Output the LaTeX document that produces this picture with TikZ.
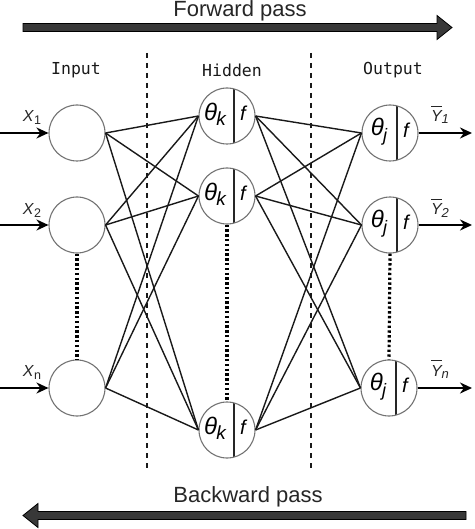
\documentclass[tikz,border=0pt]{standalone}
\usepackage{fontspec}
\setmainfont{Liberation Sans}
\newfontfamily\monof{DejaVu Sans Mono}
\usetikzlibrary{arrows.meta}
\tikzset{
  neuron/.style={circle, draw=black!55, line width=1.1pt, minimum size=56pt, inner sep=0pt},
  split/.style={neuron, path picture={\draw[line width=1.4pt, black!85] ([xshift=7pt]path picture bounding box.north) -- ([xshift=7pt]path picture bounding box.south);}},
  link/.style={line width=1.4pt, black!90},
  dotline/.style={line width=3.2pt, black, dash pattern=on 2.4pt off 2.4pt},
  layersep/.style={line width=1.3pt, black!90, dash pattern=on 5pt off 5pt},
  inarrow/.style={line width=2.8pt, -{Stealth[length=12pt,width=11pt]}},
  layerlab/.style={font=\monof\fontsize{16.5}{19}\selectfont, text=black!90},
  passlab/.style={font=\fontsize{22}{26}\selectfont, text=black!85},
  bigarrow/.style={draw=black, line width=0.8pt, fill=black!78},
  thlab/.style={font=\itshape\fontsize{24}{26}\selectfont, inner sep=0pt},
  flab/.style={font=\itshape\fontsize{20}{22}\selectfont, inner sep=0pt},
  xlab/.style={font=\fontsize{16}{18}\selectfont, inner sep=0pt, text=black!85},
}
\newcommand{\ybar}[1]{$\overline{\mbox{\itshape Y\rule{0pt}{14pt}}}$\raisebox{-2pt}{\itshape\fontsize{13}{14}\selectfont #1}}
\begin{document}
\begin{tikzpicture}[x=1pt,y=-1pt]
\useasboundingbox (0,0) rectangle (474,529);
% forward / backward
\node[passlab] (fwd) at (240,11) {Forward pass};
\path[bigarrow] (23,23.5) -- (437,23.5) -- (437,15.5) -- (452,27.5) -- (437,39.5) -- (437,31.5) -- (23,31.5) -- cycle;
\node[passlab] (bwd) at (248,497) {Backward pass};
\path[bigarrow] (466,511.5) -- (38,511.5) -- (38,503.5) -- (23,515.5) -- (38,527.5) -- (38,519.5) -- (466,519.5) -- cycle;
% layer separators
\coordinate (s1t) at (147,53); \coordinate (s1b) at (147,472);
\coordinate (s2t) at (311,53); \coordinate (s2b) at (311,472);
\draw[layersep] (s1t) -- (s1b);
\draw[layersep] (s2t) -- (s2b);
% layer labels
\node[layerlab] (linp) at (76,70) {Input};
\node[layerlab] (lhid) at (232,70) {Hidden};
\node[layerlab] (lout) at (393,70) {Output};
% nodes
\node[neuron] (i1) at (77,133) {};
\node[neuron] (i2) at (77,225) {};
\node[neuron] (i3) at (77,388) {};
\node[split] (h1) at (227,116) {};
\node[split] (h2) at (227,196) {};
\node[split] (h3) at (227,430) {};
\node[split] (o1) at (390,133) {};
\node[split] (o2) at (390,225) {};
\node[split] (o3) at (389,388) {};
% node texts
\foreach \n in {h1,h2,h3}{
  \node[thlab] (\n th) at ([xshift=-12pt,yshift=2pt]\n.center) {θ\kern-1pt\raisebox{-5pt}{\fontsize{19}{20}\selectfont k}};
  \node[flab] (\n f) at ([xshift=16pt,yshift=3pt]\n.center) {f};
}
\foreach \n in {o1,o2,o3}{
  \node[thlab] (\n th) at ([xshift=-11pt,yshift=1pt]\n.center) {θ\kern-1pt\raisebox{-6pt}{\fontsize{18}{20}\selectfont j}};
  \node[flab] (\n f) at ([xshift=16pt,yshift=3pt]\n.center) {f};
}
% connectors
\foreach \a in {i1,i2,i3}{
  \foreach \b in {h1,h2,h3}{
    \draw[link] (\a.east) -- (\b.west);
  }
}
\foreach \a in {h1,h2,h3}{
  \foreach \b in {o1,o2,o3}{
    \draw[link] (\a.east) -- (\b.west);
  }
}
% dotted continuations
\draw[dotline] (i2.south) -- (i3.north);
\draw[dotline] (h2.south) -- (h3.north);
\draw[dotline] (o2.south) -- (o3.north);
% input arrows
\coordinate (a1) at (0,133);
\coordinate (a2) at (0,225);
\coordinate (a3) at (0,388);
\draw[inarrow] (a1) -- (i1.west);
\draw[inarrow] (a2) -- (i2.west);
\draw[inarrow] (a3) -- (i3.west);
\node[xlab] (x1) at (32,117) {\textit{X}\raisebox{-3pt}{\fontsize{12.5}{13}\selectfont 1}};
\node[xlab] (x2) at (32,210) {\textit{X}\raisebox{-3pt}{\fontsize{12.5}{13}\selectfont 2}};
\node[xlab] (x3) at (32,372) {\textit{X}\raisebox{-3pt}{\fontsize{12.5}{13}\selectfont n}};
% output arrows
\coordinate (b1) at (472,133);
\coordinate (b2) at (472,225);
\coordinate (b3) at (472,388);
\draw[inarrow] (o1.east) -- (b1);
\draw[inarrow] (o2.east) -- (b2);
\draw[inarrow] (o3.east) -- (b3);
\node[xlab] (y1) at (440,115) {\ybar{1}};
\node[xlab] (y2) at (440,208) {\ybar{2}};
\node[xlab] (y3) at (440,369) {\ybar{n}};
\end{tikzpicture}
\end{document}
